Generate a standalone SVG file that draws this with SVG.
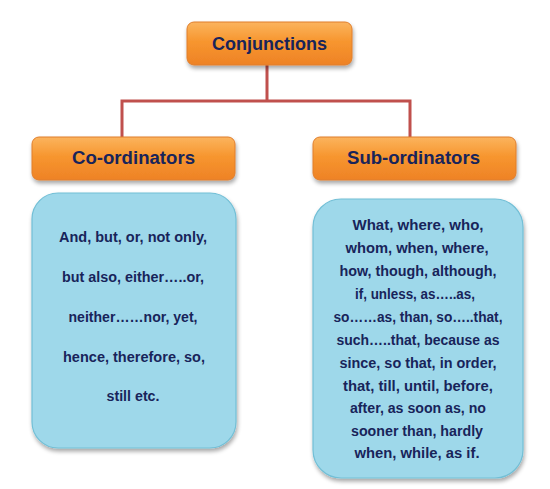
<svg xmlns="http://www.w3.org/2000/svg" width="550" height="489" viewBox="0 0 550 489">
<defs>
<linearGradient id="og" x1="0" y1="0" x2="0" y2="1">
<stop offset="0" stop-color="#fbb45e"/>
<stop offset="0.45" stop-color="#f7962f"/>
<stop offset="1" stop-color="#ee8226"/>
</linearGradient>
<filter id="sh" x="-10%" y="-20%" width="120%" height="150%">
<feGaussianBlur in="SourceAlpha" stdDeviation="2"/>
<feOffset dx="1" dy="3" result="b"/>
<feComponentTransfer><feFuncA type="linear" slope="0.35"/></feComponentTransfer>
<feMerge><feMergeNode/><feMergeNode in="SourceGraphic"/></feMerge>
</filter>
</defs>
<style>
.ob{fill:url(#og);stroke:#e07e2c;stroke-width:1;filter:url(#sh)}
.bb{fill:#9ed8ea;stroke:#72bfd6;stroke-width:1.2;filter:url(#sh)}
.ht{font-family:"Liberation Sans",Arial,sans-serif;font-weight:bold;fill:#18245a;text-anchor:middle}
.bt{font-family:"Liberation Sans",Arial,sans-serif;font-weight:bold;font-size:14.5px;fill:#18245a;text-anchor:middle}
.rt{font-size:14px}
.cn{fill:none;stroke:#c0504d;stroke-width:3}
</style>
<g id="connectors">
<path class="cn" d="M267,65 V101 M122,101 H410 M122,99.5 V137 M410,99.5 V137"/>
</g>
<g id="conjunctions">
<rect class="ob" x="187" y="22" width="165" height="43" rx="7"/>
<text class="ht" x="269.5" y="50" font-size="18" textLength="115" lengthAdjust="spacingAndGlyphs">Conjunctions</text>
</g>
<g id="coordinators">
<rect class="ob" x="32" y="137" width="203" height="43" rx="7"/>
<text class="ht" x="133.5" y="164" font-size="18" textLength="123" lengthAdjust="spacingAndGlyphs">Co-ordinators</text>
</g>
<g id="subordinators">
<rect class="ob" x="313" y="137" width="203" height="43" rx="7"/>
<text class="ht" x="413.5" y="164" font-size="18" textLength="133" lengthAdjust="spacingAndGlyphs">Sub-ordinators</text>
</g>
<g id="coordinators-list">
<rect class="bb" x="32" y="193" width="204" height="255" rx="26"/>
<text class="bt" x="133" y="242" textLength="148" lengthAdjust="spacingAndGlyphs">And, but, or, not only,</text>
<text class="bt" x="133" y="282" textLength="142" lengthAdjust="spacingAndGlyphs">but also, either…..or,</text>
<text class="bt" x="133" y="322" textLength="129" lengthAdjust="spacingAndGlyphs">neither……nor, yet,</text>
<text class="bt" x="134" y="362" textLength="142" lengthAdjust="spacingAndGlyphs">hence, therefore, so,</text>
<text class="bt" x="133" y="401" textLength="53" lengthAdjust="spacingAndGlyphs">still etc.</text>
</g>
<g id="subordinators-list">
<rect class="bb" x="313" y="199" width="210" height="279" rx="28"/>
<text class="bt rt" x="418" y="230" textLength="131" lengthAdjust="spacingAndGlyphs">What, where, who,</text>
<text class="bt rt" x="417" y="253" textLength="143" lengthAdjust="spacingAndGlyphs">whom, when, where,</text>
<text class="bt rt" x="418" y="276" textLength="157" lengthAdjust="spacingAndGlyphs">how, though, although,</text>
<text class="bt rt" x="415" y="299" textLength="120" lengthAdjust="spacingAndGlyphs">if, unless, as…..as,</text>
<text class="bt rt" x="418" y="321.5" textLength="169" lengthAdjust="spacingAndGlyphs">so……as, than, so…..that,</text>
<text class="bt rt" x="418" y="344.5" textLength="163" lengthAdjust="spacingAndGlyphs">such…..that, because as</text>
<text class="bt rt" x="418" y="367.5" textLength="157" lengthAdjust="spacingAndGlyphs">since, so that, in order,</text>
<text class="bt rt" x="418" y="390.5" textLength="150" lengthAdjust="spacingAndGlyphs">that, till, until, before,</text>
<text class="bt rt" x="418" y="413" textLength="136" lengthAdjust="spacingAndGlyphs">after, as soon as, no</text>
<text class="bt rt" x="417" y="436" textLength="132" lengthAdjust="spacingAndGlyphs">sooner than, hardly</text>
<text class="bt rt" x="417" y="458" textLength="125" lengthAdjust="spacingAndGlyphs">when, while, as if.</text>
</g>
</svg>
